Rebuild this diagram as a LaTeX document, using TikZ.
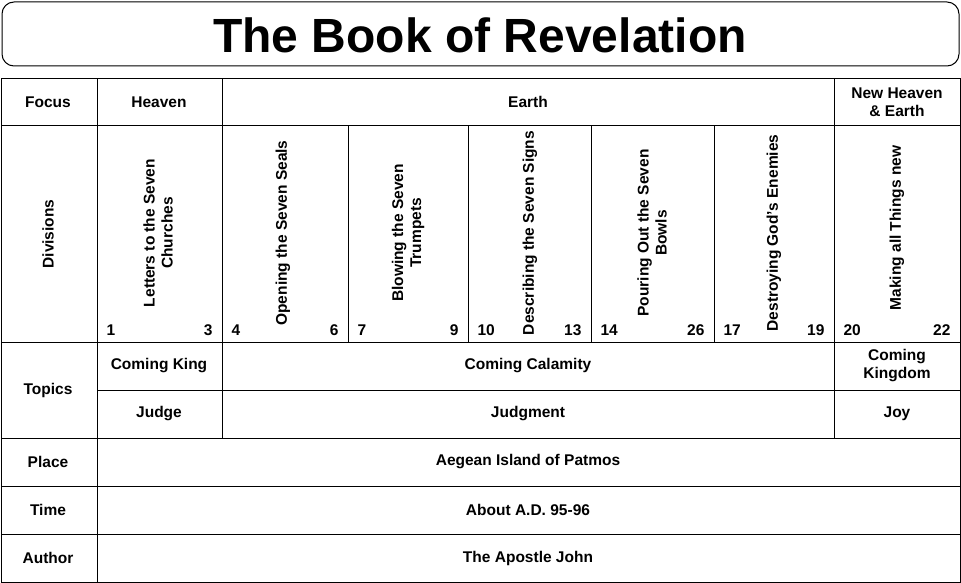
\documentclass[tikz,border=0pt]{standalone}
\usepackage{fontspec}
\setmainfont{Liberation Sans}
\tikzset{
    x=1pt, y=-1pt,
    grid/.style={draw, line width=1pt},
    txt/.style={font=\bfseries\fontsize{15.5}{18}\selectfont, align=center},
    div/.style={txt, rotate=90},
    num/.style={font=\bfseries\fontsize{15.5}{18}\selectfont}
}
\begin{document}
\begin{tikzpicture}
    \useasboundingbox (0,0) rectangle (961,583);
    % title
    \draw[grid, rounded corners=12pt] (2,2) rectangle (959,66);
    \node[font=\bfseries\fontsize{48}{52}\selectfont] (title) at (480,35) {The Book of Revelation};
    % table frame
    \draw[grid] (1,79) rectangle (960,582);
    \foreach \y in {126,342,438,486,534} \draw[grid] (1,\y) -- (960,\y);
    \draw[grid] (97,390) -- (960,390);
    \draw[grid] (97,79) -- (97,582);
    \foreach \x in {222,834} \draw[grid] (\x,79) -- (\x,438);
    \foreach \x in {348,468,591,714} \draw[grid] (\x,126) -- (\x,342);
    % row labels
    \node[txt] (focus) at (48,102) {Focus};
    \node[div] (divisions) at (48,234) {Divisions};
    \node[txt] (topics) at (48,390) {Topics};
    \node[txt] (place) at (48,462) {Place};
    \node[txt] (time) at (48,510) {Time};
    \node[txt] (author) at (48,558) {Author};
    % focus
    \node[txt] (heaven) at (159,102) {Heaven};
    \node[txt] (earth) at (528,102) {Earth};
    \node[txt] (newearth) at (897,102) {New Heaven\\\& Earth};
    % divisions
    \node[div] (d1) at (158,233) {Letters to the Seven\\Churches};
    \node[div] (d2) at (283,233) {Opening the Seven Seals};
    \node[div] (d3) at (408,233) {Blowing the Seven\\Trumpets};
    \node[div] (d4) at (530,233) {Describing the Seven Signs};
    \node[div] (d5) at (652,233) {Pouring Out the Seven\\Bowls};
    \node[div] (d6) at (774,233) {Destroying God's Enemies};
    \node[div] (d7) at (897,228) {Making all Things new};
    \foreach \l/\r/\a/\b in {97/222/1/3, 222/348/4/6, 348/468/7/9, 468/591/10/13,
        591/714/14/26, 714/834/17/19, 834/960/20/22} {
        \node[num, anchor=base west] at (\l+6,335) {\a};
        \node[num, anchor=base east] at (\r-6,335) {\b};
    }
    % topics
    \node[txt] (king) at (159,366) {Coming King};
    \node[txt] (calamity) at (528,366) {Coming Calamity};
    \node[txt] (kingdom) at (897,366) {Coming\\Kingdom};
    \node[txt] (judge) at (159,414) {Judge};
    \node[txt] (judgment) at (528,414) {Judgment};
    \node[txt] (joy) at (897,414) {Joy};
    % place, time, author
    \node[txt] (patmos) at (528,462) {Aegean Island of Patmos};
    \node[txt] (date) at (528,510) {About A.D. 95-96};
    \node[txt] (john) at (528,558) {The Apostle John};
\end{tikzpicture}
\end{document}
